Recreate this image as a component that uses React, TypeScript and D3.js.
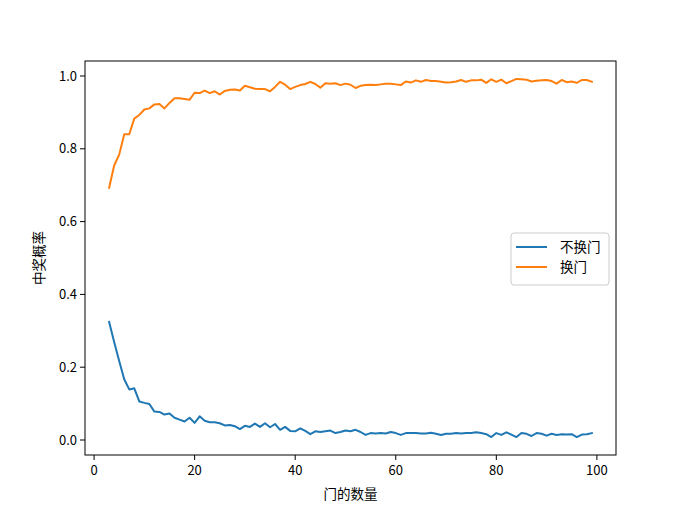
import React, { useEffect, useRef } from 'react';
import * as d3 from 'd3';

/* ── Data ─────────────────────────────────────────────────────────── */
// door counts 3..99
const doorCounts: number[] = d3.range(3, 100);

// 不换门 (stay)
const stayRate: number[] = [
  0.324, 0.269, 0.217, 0.167, 0.139, 0.142, 0.106, 0.102, 0.099, 0.078,
  0.077, 0.070, 0.073, 0.061, 0.056, 0.051, 0.061, 0.047, 0.065, 0.053,
  0.049, 0.049, 0.046, 0.040, 0.041, 0.038, 0.030, 0.039, 0.036, 0.045,
  0.036, 0.046, 0.035, 0.044, 0.028, 0.036, 0.025, 0.024, 0.032, 0.025,
  0.016, 0.024, 0.022, 0.024, 0.026, 0.019, 0.022, 0.026, 0.024, 0.028,
  0.022, 0.014, 0.019, 0.018, 0.019, 0.018, 0.022, 0.019, 0.014, 0.019,
  0.019, 0.019, 0.018, 0.018, 0.020, 0.017, 0.014, 0.017, 0.017, 0.019,
  0.018, 0.019, 0.019, 0.021, 0.019, 0.016, 0.008, 0.019, 0.014, 0.021,
  0.015, 0.008, 0.019, 0.017, 0.011, 0.019, 0.017, 0.012, 0.017, 0.014,
  0.016, 0.015, 0.016, 0.008, 0.015, 0.016, 0.019,
];

// 换门 (switch)
const switchRate: number[] = [
  0.693, 0.754, 0.784, 0.840, 0.840, 0.883, 0.893, 0.908, 0.911, 0.922,
  0.923, 0.911, 0.926, 0.939, 0.939, 0.937, 0.935, 0.954, 0.953, 0.960,
  0.953, 0.958, 0.949, 0.959, 0.962, 0.963, 0.960, 0.973, 0.969, 0.965,
  0.964, 0.964, 0.958, 0.970, 0.984, 0.976, 0.964, 0.970, 0.975, 0.978,
  0.984, 0.978, 0.968, 0.980, 0.979, 0.980, 0.975, 0.979, 0.976, 0.967,
  0.973, 0.975, 0.976, 0.975, 0.977, 0.979, 0.979, 0.977, 0.975, 0.985,
  0.982, 0.988, 0.984, 0.989, 0.986, 0.986, 0.984, 0.982, 0.983, 0.985,
  0.989, 0.984, 0.988, 0.988, 0.990, 0.981, 0.991, 0.984, 0.990, 0.980,
  0.986, 0.992, 0.991, 0.990, 0.985, 0.987, 0.988, 0.989, 0.986, 0.979,
  0.989, 0.983, 0.985, 0.981, 0.989, 0.989, 0.984,
];

const seriesNames = ['不换门', '换门'];
const seriesColors = ['#1f77b4', '#ff7f0e'];
const xTicks = [0, 20, 40, 60, 80, 100];
const yTicks = [0, 0.2, 0.4, 0.6, 0.8, 1.0];

const W = 680;
const H = 509;
const FONT = '"Noto Sans CJK SC", "DejaVu Sans", sans-serif';

export default function App() {
  const svgRef = useRef<SVGSVGElement>(null);

  useEffect(() => {
    if (!svgRef.current) return;
    const svg = d3.select(svgRef.current);
    svg.selectAll('*').remove();

    // axes box (matplotlib-like)
    const box = { left: 85, right: 616, top: 61, bottom: 455 };

    // matplotlib 5% margins
    const xMin = d3.min(doorCounts)!, xMax = d3.max(doorCounts)!;
    const xPad = (xMax - xMin) * 0.05;
    const allY = [...stayRate, ...switchRate];
    const yMin = d3.min(allY)!, yMax = d3.max(allY)!;
    const yPad = (yMax - yMin) * 0.05;

    const x = d3.scaleLinear().domain([xMin - xPad, xMax + xPad]).range([box.left, box.right]);
    const y = d3.scaleLinear().domain([yMin - yPad, yMax + yPad]).range([box.bottom, box.top]);

    svg.append('rect').attr('width', W).attr('height', H).attr('fill', '#fff');

    // Lines
    const line = d3.line<number>()
      .x((_, i) => x(doorCounts[i]))
      .y(d => y(d));

    [stayRate, switchRate].forEach((s, k) => {
      svg.append('path')
        .attr('d', line(s)!)
        .attr('fill', 'none')
        .attr('stroke', seriesColors[k])
        .attr('stroke-width', 2)
        .attr('stroke-linejoin', 'round')
        .attr('stroke-linecap', 'square');
    });

    // Spines
    svg.append('rect')
      .attr('x', box.left).attr('y', box.top)
      .attr('width', box.right - box.left).attr('height', box.bottom - box.top)
      .attr('fill', 'none').attr('stroke', '#000').attr('stroke-width', 1);

    // X ticks
    const xt = svg.append('g');
    xTicks.forEach(t => {
      xt.append('line')
        .attr('x1', x(t)).attr('x2', x(t))
        .attr('y1', box.bottom).attr('y2', box.bottom + 5)
        .attr('stroke', '#000').attr('stroke-width', 1);
      xt.append('text')
        .attr('x', x(t)).attr('y', box.bottom + 20)
        .attr('text-anchor', 'middle')
        .attr('font-family', FONT).attr('font-size', 13)
        .attr('fill', '#000')
        .text(String(t));
    });

    // Y ticks
    const yt = svg.append('g');
    yTicks.forEach(t => {
      yt.append('line')
        .attr('x1', box.left - 5).attr('x2', box.left)
        .attr('y1', y(t)).attr('y2', y(t))
        .attr('stroke', '#000').attr('stroke-width', 1);
      yt.append('text')
        .attr('x', box.left - 8).attr('y', y(t))
        .attr('dy', '0.35em')
        .attr('text-anchor', 'end')
        .attr('font-family', FONT).attr('font-size', 13)
        .attr('fill', '#000')
        .text(t.toFixed(1));
    });

    // Axis labels
    svg.append('text')
      .attr('x', (box.left + box.right) / 2).attr('y', 499)
      .attr('text-anchor', 'middle')
      .attr('font-family', FONT).attr('font-size', 13.5)
      .attr('fill', '#000')
      .text('门的数量');

    svg.append('text')
      .attr('transform', `translate(44,${(box.top + box.bottom) / 2}) rotate(-90)`)
      .attr('text-anchor', 'middle')
      .attr('font-family', FONT).attr('font-size', 13.5)
      .attr('fill', '#000')
      .text('中奖概率');

    // Legend (center right)
    const lg = { x: 511, y: 233, w: 98, h: 52 };
    svg.append('rect')
      .attr('x', lg.x).attr('y', lg.y).attr('width', lg.w).attr('height', lg.h)
      .attr('rx', 3)
      .attr('fill', '#fff').attr('fill-opacity', 0.8)
      .attr('stroke', '#cccccc').attr('stroke-width', 1);

    seriesNames.forEach((name, k) => {
      const cy = lg.y + 14 + k * 20;
      svg.append('line')
        .attr('x1', lg.x + 5).attr('x2', lg.x + 36)
        .attr('y1', cy).attr('y2', cy)
        .attr('stroke', seriesColors[k]).attr('stroke-width', 2);
      svg.append('text')
        .attr('x', lg.x + 49).attr('y', cy)
        .attr('dy', '0.36em')
        .attr('font-family', FONT).attr('font-size', 13.5)
        .attr('fill', '#000')
        .text(name);
    });
  }, []);

  return (
    <div style={{ position: 'absolute', left: 0, top: 0, width: W, height: H }}>
      <svg ref={svgRef} width={W} height={H} style={{ display: 'block' }} />
    </div>
  );
}
